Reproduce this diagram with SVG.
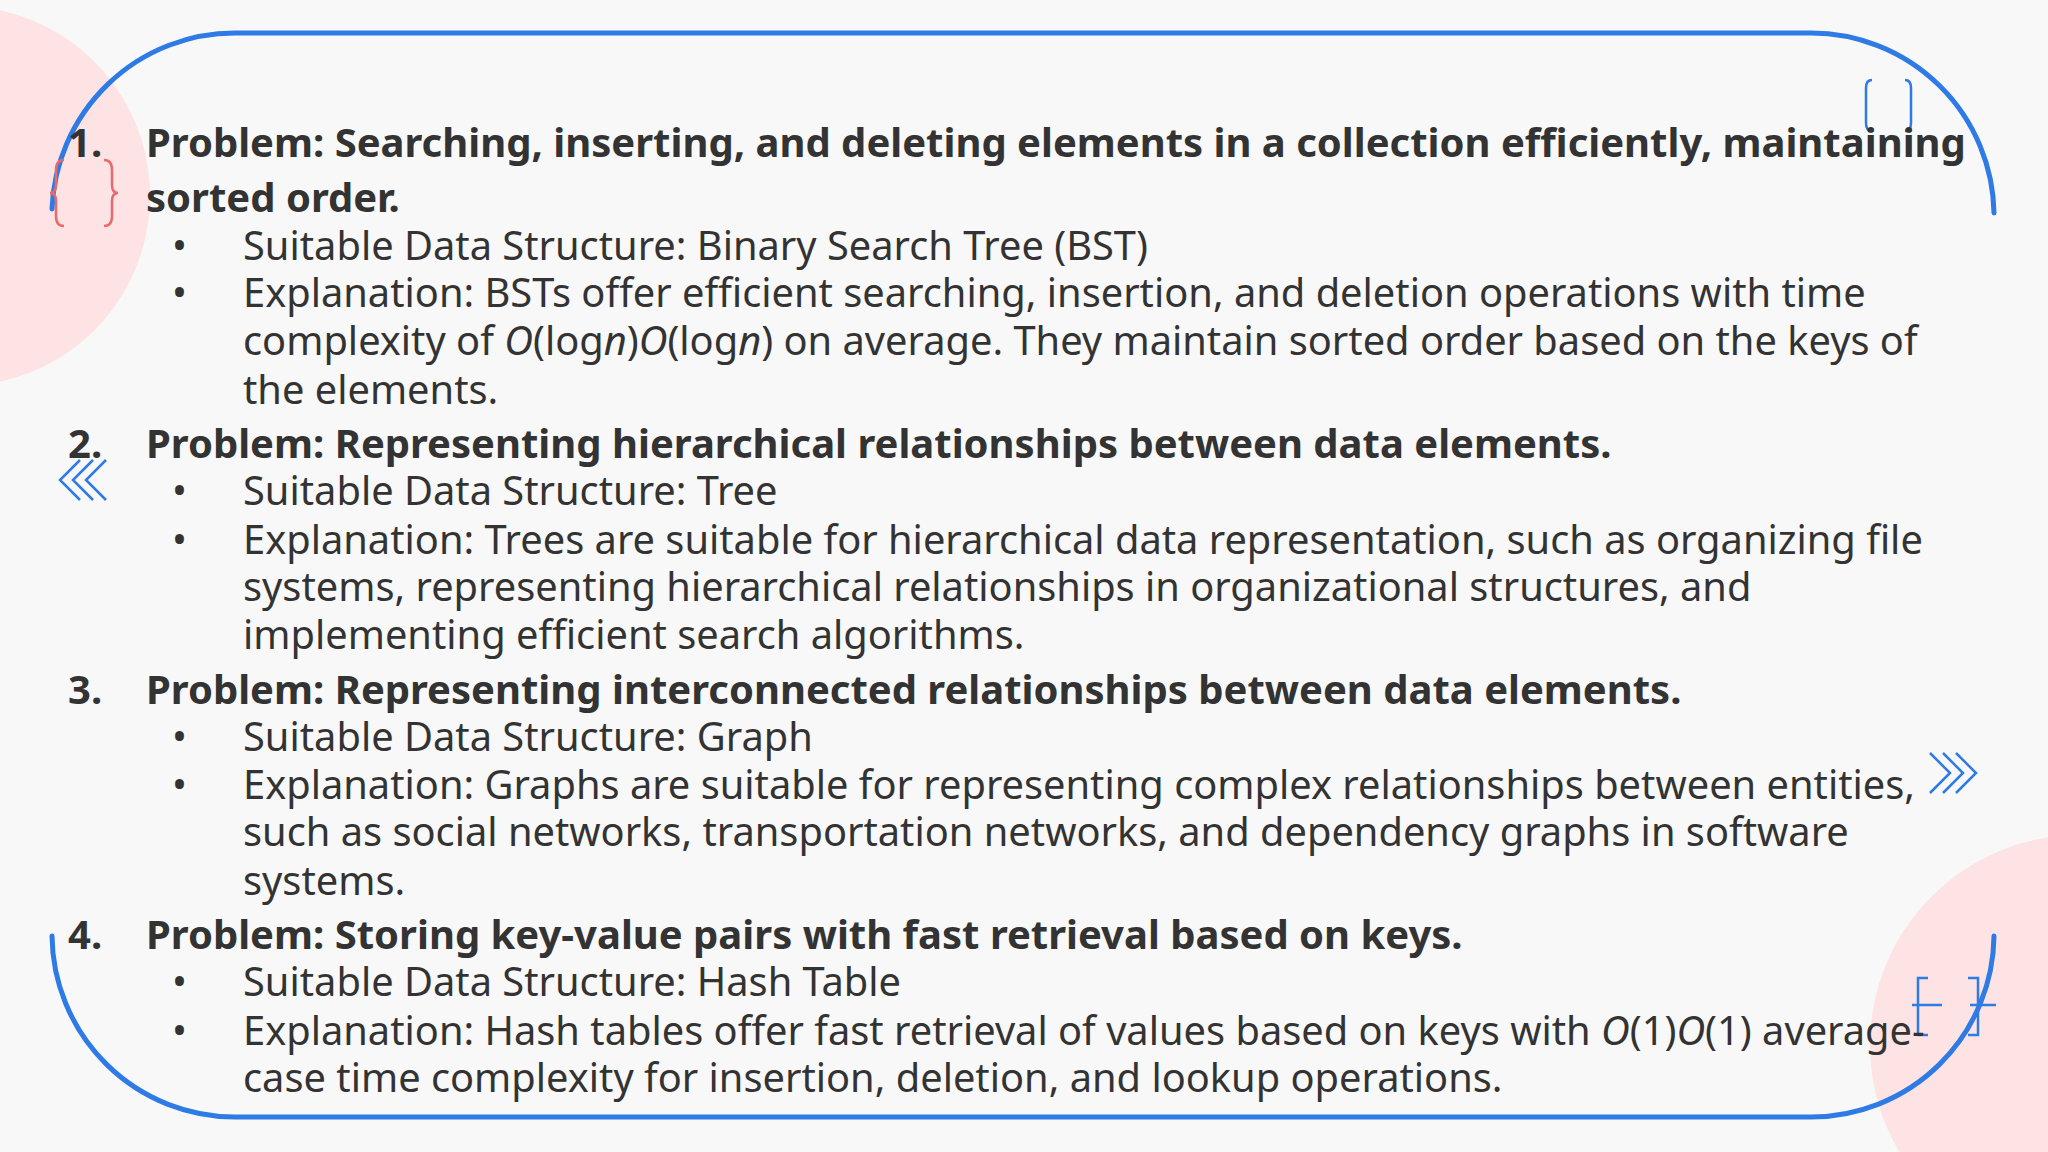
<svg xmlns="http://www.w3.org/2000/svg" width="2048" height="1152" viewBox="0 0 2048 1152">
<style>
.h{font-family:"Noto Sans","Open Sans",sans-serif;font-weight:bold;font-size:40px;fill:#333}
.t{font-family:"Noto Sans","Open Sans",sans-serif;font-size:39.8px;fill:#333}
.m{font-family:"Noto Sans",sans-serif;font-style:italic}
.b{fill:none;stroke:#2f7be6;stroke-width:5;stroke-linecap:round}
.d{fill:none;stroke:#2f7be6;stroke-width:2.5}
.r{fill:none;stroke:#e86a6a;stroke-width:2.5}
</style>
<rect width="2048" height="1152" fill="#f8f8f8"/>
<circle cx="-40" cy="196" r="190" fill="#fde3e3"/>
<circle cx="2080" cy="1045" r="210" fill="#fde3e3"/>
<g id="frame">
<path class="b" d="M52 209 A183 183 0 0 1 235 33 H1811 A183 183 0 0 1 1994 213"/>
<path class="b" d="M52 936 A183 183 0 0 0 235 1117 H1811 A183 183 0 0 0 1994 936"/>
</g>
<g id="decor">
<path class="r" d="M64 160 q-8 0 -8 10 v15 q0 8 -6 8 q6 0 6 8 v15 q0 10 8 10"/>
<path class="r" d="M104 160 q8 0 8 10 v15 q0 8 6 8 q-6 0 -6 8 v15 q0 10 -8 10"/>
<path class="d" d="M1872 80 q-6 0 -6 8 v35 q0 8 6 8 M1905 80 q6 0 6 8 v35 q0 8 -6 8"/>
<path class="d" d="M80 460 l-20 20 l20 20 M93 460 l-20 20 l20 20 M106 460 l-20 20 l20 20"/>
<path class="d" d="M1930 753 l20 20 l-20 20 M1943 753 l20 20 l-20 20 M1956 753 l20 20 l-20 20"/>
<path class="d" d="M1928 978 h-10 v57 h10 M1968 978 h10 v57 h-10 M1912 1005 h30 M1970 1005 h26"/>
</g>
<g id="item1">
<text class="h" x="68" y="157">1.</text>
<text class="h" x="146" y="157">Problem: Searching, inserting, and deleting elements in a collection efficiently, maintaining</text>
<text class="h" x="146" y="212">sorted order.</text>
<text class="t" x="172" y="260">•</text><text class="t" x="243" y="260">Suitable Data Structure: Binary Search Tree (BST)</text>
<text class="t" x="172" y="307">•</text><text class="t" x="243" y="307">Explanation: BSTs offer efficient searching, insertion, and deletion operations with time</text>
<text class="t" x="243" y="355">complexity of <tspan class="m">O</tspan>(log<tspan class="m">n</tspan>)<tspan class="m">O</tspan>(log<tspan class="m">n</tspan>) on average. They maintain sorted order based on the keys of</text>
<text class="t" x="243" y="404">the elements.</text>
</g>
<g id="item2">
<text class="h" x="68" y="458">2.</text>
<text class="h" x="146" y="458">Problem: Representing hierarchical relationships between data elements.</text>
<text class="t" x="172" y="505">•</text><text class="t" x="243" y="505">Suitable Data Structure: Tree</text>
<text class="t" x="172" y="554">•</text><text class="t" x="243" y="554">Explanation: Trees are suitable for hierarchical data representation, such as organizing file</text>
<text class="t" x="243" y="601">systems, representing hierarchical relationships in organizational structures, and</text>
<text class="t" x="243" y="649">implementing efficient search algorithms.</text>
</g>
<g id="item3">
<text class="h" x="68" y="704">3.</text>
<text class="h" x="146" y="704">Problem: Representing interconnected relationships between data elements.</text>
<text class="t" x="172" y="751">•</text><text class="t" x="243" y="751">Suitable Data Structure: Graph</text>
<text class="t" x="172" y="799">•</text><text class="t" x="243" y="799">Explanation: Graphs are suitable for representing complex relationships between entities,</text>
<text class="t" x="243" y="846">such as social networks, transportation networks, and dependency graphs in software</text>
<text class="t" x="243" y="895">systems.</text>
</g>
<g id="item4">
<text class="h" x="68" y="949">4.</text>
<text class="h" x="146" y="949">Problem: Storing key-value pairs with fast retrieval based on keys.</text>
<text class="t" x="172" y="996">•</text><text class="t" x="243" y="996">Suitable Data Structure: Hash Table</text>
<text class="t" x="172" y="1045">•</text><text class="t" x="243" y="1045">Explanation: Hash tables offer fast retrieval of values based on keys with <tspan class="m">O</tspan>(1)<tspan class="m">O</tspan>(1) average-</text>
<text class="t" x="243" y="1092">case time complexity for insertion, deletion, and lookup operations.</text>
</g>
</svg>
